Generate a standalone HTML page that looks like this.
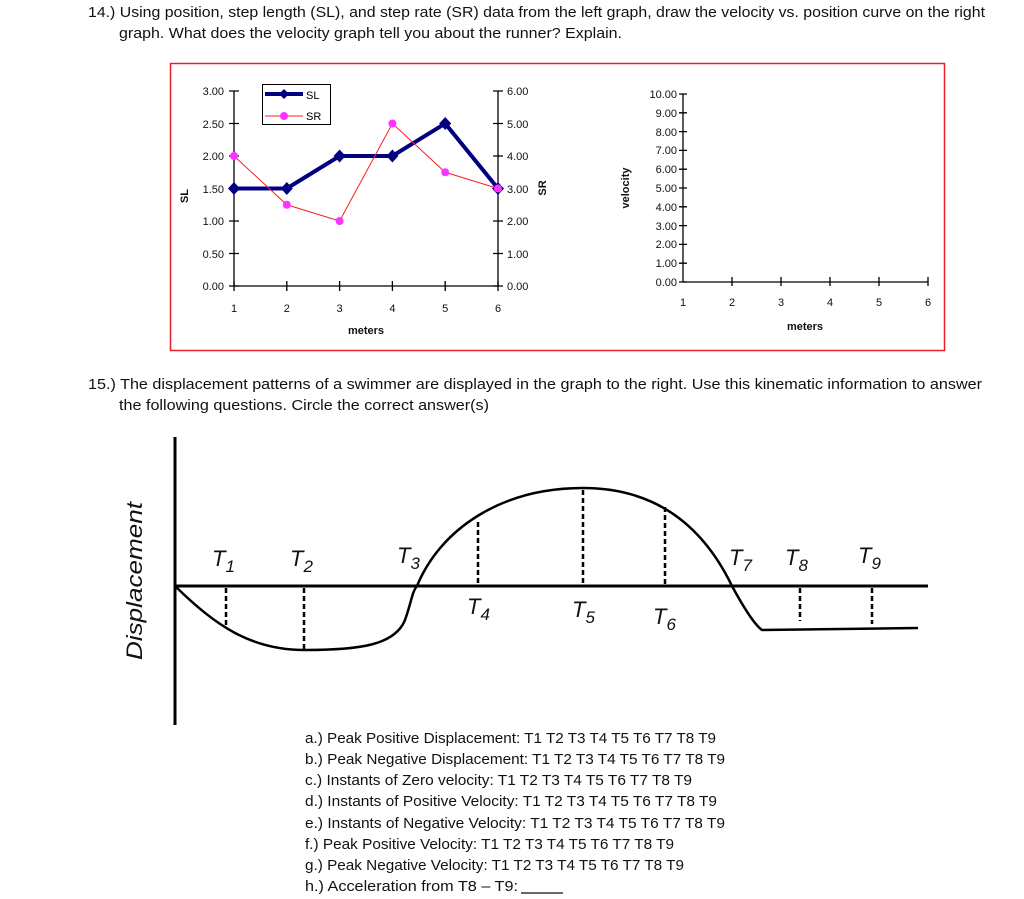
<!DOCTYPE html>
<html><head><style>body{margin:0;background:#fff}svg{display:block}</style></head><body>
<svg width="1024" height="899" xmlns="http://www.w3.org/2000/svg" font-family="Liberation Sans, sans-serif">
<rect width="1024" height="899" fill="#fff"/>
<g font-size="15" fill="#111">
<text x="88" y="17" textLength="897" lengthAdjust="spacingAndGlyphs">14.) Using position, step length (SL), and step rate (SR) data from the left graph, draw the velocity vs. position curve on the right</text>
<text x="119" y="38" textLength="503" lengthAdjust="spacingAndGlyphs">graph. What does the velocity graph tell you about the runner? Explain.</text>
<text x="88" y="389" textLength="894" lengthAdjust="spacingAndGlyphs">15.) The displacement patterns of a swimmer are displayed in the graph to the right. Use this kinematic information to answer</text>
<text x="119" y="410" textLength="370" lengthAdjust="spacingAndGlyphs">the following questions. Circle the correct answer(s)</text>
<text x="305" y="743" textLength="411" lengthAdjust="spacingAndGlyphs">a.) Peak Positive Displacement: T1 T2 T3 T4 T5 T6 T7 T8 T9</text>
<text x="305" y="764" textLength="420" lengthAdjust="spacingAndGlyphs">b.) Peak Negative Displacement: T1 T2 T3 T4 T5 T6 T7 T8 T9</text>
<text x="305" y="785" textLength="387" lengthAdjust="spacingAndGlyphs">c.) Instants of Zero velocity: T1 T2 T3 T4 T5 T6 T7 T8 T9</text>
<text x="305" y="806" textLength="412" lengthAdjust="spacingAndGlyphs">d.) Instants of Positive Velocity: T1 T2 T3 T4 T5 T6 T7 T8 T9</text>
<text x="305" y="828" textLength="420" lengthAdjust="spacingAndGlyphs">e.) Instants of Negative Velocity: T1 T2 T3 T4 T5 T6 T7 T8 T9</text>
<text x="305" y="849" textLength="369" lengthAdjust="spacingAndGlyphs">f.) Peak Positive Velocity: T1 T2 T3 T4 T5 T6 T7 T8 T9</text>
<text x="305" y="870" textLength="379" lengthAdjust="spacingAndGlyphs">g.) Peak Negative Velocity: T1 T2 T3 T4 T5 T6 T7 T8 T9</text>
<text x="305" y="891" textLength="213" lengthAdjust="spacingAndGlyphs">h.) Acceleration from T8 – T9:</text>
</g>
<line x1="521" y1="893" x2="563" y2="893" stroke="#111" stroke-width="1.2"/>

<rect x="170.5" y="63.5" width="774" height="287" fill="none" stroke="#e8202a" stroke-width="1.5"/>
<!-- left chart -->
<g stroke="#000" stroke-width="1.3">
<line x1="234" y1="91" x2="234" y2="286"/>
<line x1="498" y1="91" x2="498" y2="286"/>
<line x1="234" y1="286" x2="498" y2="286"/>
<path d="M229 91h10M229 123.5h10M229 156h10M229 188.5h10M229 221h10M229 253.5h10M229 286h10M493 91h10M493 123.5h10M493 156h10M493 188.5h10M493 221h10M493 253.5h10M493 286h10M286.8 281v10M339.6 281v10M392.4 281v10M445.2 281v10M498 281v10M234 281v10"/>
</g>
<g font-size="11" fill="#111" text-anchor="end">
<text x="224" y="95">3.00</text><text x="224" y="128">2.50</text><text x="224" y="160">2.00</text><text x="224" y="193">1.50</text><text x="224" y="225">1.00</text><text x="224" y="258">0.50</text><text x="224" y="290">0.00</text>
</g>
<g font-size="11" fill="#111">
<text x="507" y="95">6.00</text><text x="507" y="128">5.00</text><text x="507" y="160">4.00</text><text x="507" y="193">3.00</text><text x="507" y="225">2.00</text><text x="507" y="258">1.00</text><text x="507" y="290">0.00</text>
</g>
<g font-size="11" fill="#111" text-anchor="middle">
<text x="234" y="312">1</text><text x="286.8" y="312">2</text><text x="339.6" y="312">3</text><text x="392.4" y="312">4</text><text x="445.2" y="312">5</text><text x="498" y="312">6</text>
<text x="366" y="334" font-weight="bold">meters</text>
<text transform="translate(188,196) rotate(-90)" font-weight="bold">SL</text>
<text transform="translate(546,188) rotate(-90)" font-weight="bold">SR</text>
</g>
<polyline points="234,188.5 286.8,188.5 339.6,156 392.4,156 445.2,123.5 498,188.5" fill="none" stroke="#000080" stroke-width="4"/>
<g fill="#000080">
<path d="M234 182l6 6.5-6 6.5-6-6.5z"/><path d="M286.8 182l6 6.5-6 6.5-6-6.5z"/><path d="M339.6 149.5l6 6.5-6 6.5-6-6.5z"/><path d="M392.4 149.5l6 6.5-6 6.5-6-6.5z"/><path d="M445.2 117l6 6.5-6 6.5-6-6.5z"/><path d="M498 182l6 6.5-6 6.5-6-6.5z"/>
</g>
<polyline points="234,156 286.8,204.75 339.6,221 392.4,123.5 445.2,172.25 498,188.5" fill="none" stroke="#ff2020" stroke-width="1"/>
<g fill="#ff33ff">
<circle cx="234" cy="156" r="4"/><circle cx="286.8" cy="204.75" r="4"/><circle cx="339.6" cy="221" r="4"/><circle cx="392.4" cy="123.5" r="4"/><circle cx="445.2" cy="172.25" r="4"/><circle cx="498" cy="188.5" r="4"/>
</g>
<rect x="262.5" y="84.5" width="68" height="40" fill="#fff" stroke="#000" stroke-width="1"/>
<line x1="265" y1="94" x2="303" y2="94" stroke="#000080" stroke-width="4"/>
<path d="M284 89l5 5-5 5-5-5z" fill="#000080"/>
<text x="306" y="99" font-size="11">SL</text>
<line x1="265" y1="116" x2="303" y2="116" stroke="#ff2020" stroke-width="1"/>
<circle cx="284" cy="116" r="4" fill="#ff33ff"/>
<text x="306" y="120" font-size="11">SR</text>

<!-- right chart -->
<g stroke="#000" stroke-width="1.3">
<line x1="683" y1="94" x2="683" y2="282"/>
<line x1="683" y1="282" x2="928" y2="282"/>
<path d="M679 94h8M679 112.8h8M679 131.6h8M679 150.4h8M679 169.2h8M679 188h8M679 206.8h8M679 225.6h8M679 244.4h8M679 263.2h8M679 282h8M732 277v9M781 277v9M830 277v9M879 277v9M928 277v9"/>
</g>
<g font-size="11" fill="#111" text-anchor="end">
<text x="677" y="98">10.00</text><text x="677" y="117">9.00</text><text x="677" y="136">8.00</text><text x="677" y="154">7.00</text><text x="677" y="173">6.00</text><text x="677" y="192">5.00</text><text x="677" y="211">4.00</text><text x="677" y="230">3.00</text><text x="677" y="248">2.00</text><text x="677" y="267">1.00</text><text x="677" y="286">0.00</text>
</g>
<g font-size="11" fill="#111" text-anchor="middle">
<text x="683" y="306">1</text><text x="732" y="306">2</text><text x="781" y="306">3</text><text x="830" y="306">4</text><text x="879" y="306">5</text><text x="928" y="306">6</text>
<text x="805" y="330" font-weight="bold">meters</text>
<text transform="translate(629,188) rotate(-90)" font-weight="bold">velocity</text>
</g>

<!-- displacement diagram -->
<g stroke="#000" fill="none">
<line x1="175" y1="437" x2="175" y2="725" stroke-width="3"/>
<line x1="175" y1="586" x2="928" y2="586" stroke-width="3"/>
<path d="M175 586 C 215 625, 250 650, 305 650 C 360 650, 395 645, 405 620 C 412 600, 412 592, 417 586 C 440 530, 500 488, 583 488 C 650 488, 700 520, 732 586 C 745 610, 755 625, 762 630 L 918 628" stroke-width="2.5"/>
<g stroke-width="2.5" stroke-dasharray="5,3">
<line x1="226" y1="588" x2="226" y2="625"/>
<line x1="304" y1="588" x2="304" y2="650"/>
<line x1="478" y1="522" x2="478" y2="586"/>
<line x1="583" y1="490" x2="583" y2="586"/>
<line x1="665" y1="507" x2="665" y2="586"/>
<line x1="800" y1="588" x2="800" y2="621"/>
<line x1="872" y1="588" x2="872" y2="624"/>
</g>
</g>
<g font-size="22" font-style="italic" fill="#111">
<text x="212" y="566">T<tspan font-size="17" dy="6">1</tspan></text>
<text x="290" y="566">T<tspan font-size="17" dy="6">2</tspan></text>
<text x="397" y="563">T<tspan font-size="17" dy="6">3</tspan></text>
<text x="467" y="614">T<tspan font-size="17" dy="6">4</tspan></text>
<text x="572" y="617">T<tspan font-size="17" dy="6">5</tspan></text>
<text x="653" y="624">T<tspan font-size="17" dy="6">6</tspan></text>
<text x="729" y="565">T<tspan font-size="17" dy="6">7</tspan></text>
<text x="785" y="565">T<tspan font-size="17" dy="6">8</tspan></text>
<text x="858" y="563">T<tspan font-size="17" dy="6">9</tspan></text>
</g>
<text transform="translate(142,660) rotate(-90)" font-size="22" font-style="italic" fill="#111" textLength="158" lengthAdjust="spacingAndGlyphs">Displacement</text>
</svg>
</body></html>
